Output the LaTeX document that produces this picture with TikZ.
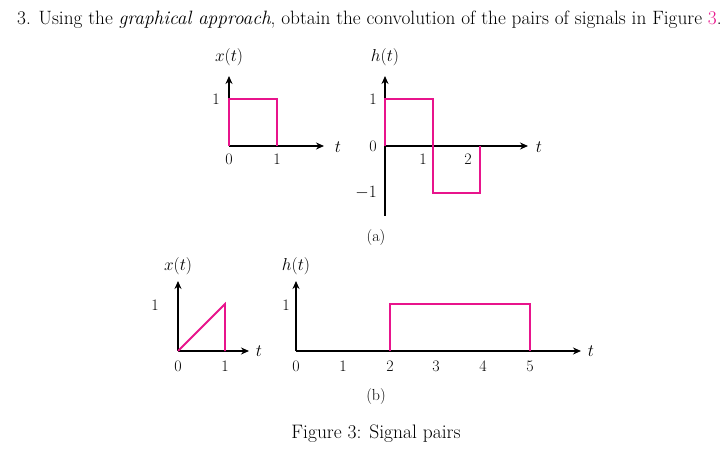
\documentclass[tikz,border=0pt]{standalone}
\usetikzlibrary{arrows.meta}
\definecolor{sig}{RGB}{232,20,140}
\begin{document}
\begin{tikzpicture}[x=1pt,y=-1pt,
  ax/.style={line width=1.4pt,-{Stealth[length=8pt,width=7pt]}},
  sg/.style={sig,line width=1.8pt},
  lb/.style={font=\fontsize{16}{19}\selectfont},
  every node/.style={inner sep=0pt}]
\useasboundingbox (0,0) rectangle (728,449);
\node[anchor=west] (title) at (17,20) {\fontsize{19.3}{22}\selectfont 3. Using the \emph{graphical approach}, obtain the convolution of the pairs of signals in Figure \textcolor{sig}{3}.};
% (a) x(t)
\coordinate (ao) at (229,146);
\coordinate (aT) at (229,76);
\coordinate (aR) at (324,146);
\draw[ax] (ao) -- (aT);
\draw[ax] (ao) -- (aR);
\draw[sg] (229,146) -- (229,99) -- (277,99) -- (277,146);
\node[lb] (axl) at (229,57) {$x(t)$};
\node[lb] (a1) at (216,99) {1};
\node[lb] (a0) at (229,159) {0};
\node[lb] (ax1) at (277,159) {1};
\node[lb] (at) at (338,147) {$t$};
% (a) h(t)
\coordinate (bo) at (385,146);
\coordinate (bT) at (385,76);
\coordinate (bB) at (385,216);
\coordinate (bR) at (528,146);
\draw[ax] (bB) -- (bT);
\draw[ax] (bo) -- (bR);
\draw[sg] (385,146) -- (385,99) -- (433,99) -- (433,193) -- (480,193) -- (480,146);
\node[lb] (bhl) at (385,57) {$h(t)$};
\node[lb] (b1) at (373,99) {1};
\node[lb] (b0) at (373,146) {0};
\node[lb] (bm1) at (366,193) {$-1$};
\node[lb] (bx1) at (423,159) {1};
\node[lb] (bx2) at (468,159) {2};
\node[lb] (bt) at (539,147) {$t$};
\node[lb] (capa) at (376,238) {(a)};
% (b) x(t)
\coordinate (co) at (178,351);
\coordinate (cT) at (178,281);
\coordinate (cR) at (249,351);
\draw[ax] (co) -- (cT);
\draw[ax] (co) -- (cR);
\draw[sg] (178,351) -- (225,304) -- (225,351);
\node[lb] (cxl) at (178,266) {$x(t)$};
\node[lb] (c1) at (155,305) {1};
\node[lb] (c0) at (178,366) {0};
\node[lb] (cx1) at (225,366) {1};
\node[lb] (ct) at (259,351) {$t$};
% (b) h(t)
\coordinate (do) at (296,351);
\coordinate (dT) at (296,281);
\coordinate (dR) at (581,351);
\draw[ax] (do) -- (dT);
\draw[ax] (do) -- (dR);
\draw[sg] (390,351) -- (390,304) -- (530,304) -- (530,351);
\node[lb] (dhl) at (296,266) {$h(t)$};
\node[lb] (d1) at (286,305) {1};
\foreach \i/\x in {0/296,1/343,2/390,3/436,4/483,5/530} \node[lb] (dx\i) at (\x,366) {\i};
\node[lb] (dt) at (591,351) {$t$};
\node[lb] (capb) at (376,397) {(b)};
\node (fig) at (376,434) {\fontsize{19.5}{22}\selectfont Figure 3: Signal pairs};
\end{tikzpicture}
\end{document}
